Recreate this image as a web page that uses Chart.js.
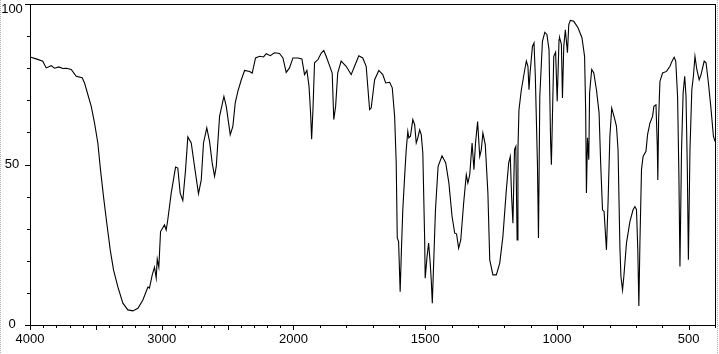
<!DOCTYPE html>
<html>
<head>
<meta charset="utf-8">
<script src="https://cdn.jsdelivr.net/npm/chart.js@4/dist/chart.umd.min.js"></script>
<style>
  html, body { margin: 0; padding: 0; background: #fff; }
  #wrap { position: relative; width: 719px; height: 354px; }
</style>
</head>
<body>
<div id="wrap"><canvas id="ir"></canvas></div>
<script>
// ===== Data =====
const wavenumbers = [
  4000,3953,3903,3877,3839,3814,3781,3751,3723,3687,
  3649,3604,3586,3561,3535,3510,3485,3465,3442,3417,
  3391,3366,3333,3295,3257,3219,3181,3143,3105,3093,
  3072,3055,3042,3034,3022,3009,2979,2966,2954,2928,
  2895,2878,2860,2840,2819,2802,2776,2751,2721,2700,
  2683,2658,2637,2617,2599,2586,2561,2528,2510,2480,
  2460,2442,2422,2396,2371,2333,2313,2288,2257,2227,
  2207,2176,2144,2106,2080,2055,2030,2004,1983,1968,
  1958,1949,1941,1935,1931,1926,1920,1907,1894,1885,
  1876,1863,1853,1847,1840,1832,1819,1800,1781,1768,
  1752,1737,1724,1711,1705,1692,1676,1661,1650,1635,
  1625,1616,1610,1606,1601,1595,1590,1585,1578,1572,
  1566,1562,1556,1547,1540,1534,1528,1521,1515,1509,
  1502,1500,1493,1487,1481,1477,1473,1467,1461,1451,
  1436,1422,1410,1398,1388,1381,1373,1365,1354,1344,
  1338,1331,1322,1315,1309,1301,1293,1287,1281,1272,
  1262,1255,1243,1230,1217,1205,1192,1183,1177,1172,
  1167,1161,1156,1151,1148,1144,1135,1122,1116,1110,
  1106,1102,1093,1087,1082,1074,1070,1065,1055,1046,
  1038,1030,1024,1021,1017,1012,1005,999,992,990,
  983,979,974,968,960,955,949,936,920,905,
  895,891,888,884,879,876,868,860,850,840,
  834,827,821,812,806,799,792,780,774,768,
  761,757,751,746,736,723,711,704,698,693,
  689,685,679,673,662,656,647,637,632,624,
  619,617,614,609,599,584,571,563,555,549,
  542,537,533,527,521,515,510,505,501,495,
  488,482,476,469,460,453,441,434,425,416,
  406,400
];
const transmittance = [
  83.5,82.9,82.2,80.1,80.8,80.0,80.4,79.9,80.0,79.6,
  77.5,77.0,75.4,71.8,68.1,62.9,56.7,48.4,40.0,31.7,
  23.4,17.2,11.9,6.8,4.7,4.4,5.2,7.8,11.8,11.5,
  15.6,18.0,14.6,20.5,18.0,29.1,31.2,29.6,32.8,41.1,
  49.2,48.9,41.1,38.8,48.4,58.6,56.7,49.4,40.9,45.2,
  56.7,61.4,57.2,50.5,46.3,49.4,65.0,71.2,68.1,59.3,
  61.9,69.2,72.8,76.4,79.3,79.0,78.5,83.2,83.7,83.5,
  84.5,83.9,84.8,84.6,83.2,78.7,80.1,83.2,83.2,82.9,
  78.0,79.3,74.4,66.1,57.9,67.1,81.7,82.7,84.8,85.5,
  83.7,80.8,78.5,64.0,68.1,78.5,82.2,80.6,78.0,80.6,
  83.9,83.2,80.6,67.1,67.6,76.4,79.3,78.0,75.4,75.6,
  73.9,65.0,50.5,27.1,26.0,10.4,23.9,35.9,46.3,54.6,
  60.3,58.3,58.8,64.0,62.4,56.7,58.3,60.8,59.3,53.6,
  26.5,14.6,21.3,25.5,19.3,14.0,6.8,21.3,35.9,49.4,
  52.7,50.5,44.2,33.8,28.6,28.4,23.9,26.5,38.0,46.8,
  44.2,46.8,56.7,48.4,56.7,63.4,52.5,54.6,59.8,56.2,
  41.1,20.3,15.6,15.6,19.3,27.6,42.1,50.5,52.5,40.0,
  31.7,54.6,55.6,26.5,54.6,67.1,73.3,79.6,82.2,80.6,
  73.3,78.5,86.8,87.9,77.5,50.5,27.1,71.2,88.4,91.2,
  90.5,85.8,57.2,49.9,65.0,83.7,85.0,69.7,88.9,89.5,
  87.4,70.7,86.8,92.0,84.8,93.6,94.9,94.6,92.6,89.5,
  83.7,67.1,41.1,58.3,51.5,72.3,79.6,78.5,73.3,66.1,
  50.5,35.9,35.4,23.4,38.0,58.8,67.6,64.0,61.9,54.6,
  24.4,15.1,10.9,15.1,25.5,32.2,35.9,36.9,35.9,23.4,
  5.9,25.5,48.4,52.5,54.1,59.3,62.9,65.0,68.1,68.6,
  55.6,45.2,64.0,75.9,78.5,79.0,80.6,82.2,83.4,82.2,
  71.2,46.3,18.2,54.6,72.3,77.5,71.2,48.4,20.3,54.6,
  73.3,77.5,83.7,79.6,76.4,78.0,82.2,81.7,75.4,68.1,
  58.8,57.2
];
const xTickLabels = [4000, 3000, 2000, 1500, 1000, 500];
const yTickLabels = [0, 50, 100];

// ===== Split wavenumber axis: 4000-2000 at half scale =====
const toAxis   = wn => wn >= 2000 ? (4000 - wn) / 2 : 1000 + (2000 - wn);
const fromAxis = v  => v <= 1000 ? 4000 - 2 * v : 2000 - (v - 1000);

const points = wavenumbers.map((wn, i) => ({ x: toAxis(wn), y: transmittance[i] }));

const FONT = '13px "Liberation Sans", Arial, sans-serif';

// ===== Frame, tick marks, y labels =====
const framePlugin = {
  id: 'frame',
  afterDraw(chart) {
    const { ctx, chartArea: a, scales: { x, y } } = chart;
    ctx.save();
    ctx.strokeStyle = '#000';
    ctx.lineWidth = 1;
    ctx.strokeRect(a.left + 0.5, a.top + 0.5, a.right - a.left, a.bottom - a.top);

    ctx.beginPath();
    x.ticks.forEach(t => {
      const wn = Math.round(fromAxis(t.value));
      const px = Math.round(x.getPixelForValue(t.value)) + 0.5;
      const len = wn % 500 === 0 ? 5 : 3;
      ctx.moveTo(px, a.bottom);
      ctx.lineTo(px, a.bottom + len);
    });
    for (let v = 0; v <= 100; v += 10) {
      const py = Math.round(y.getPixelForValue(v)) + 0.5;
      const len = v % 50 === 0 ? 5 : 3;
      ctx.moveTo(a.left - len, py);
      ctx.lineTo(a.left + 1, py);
    }
    ctx.stroke();

    ctx.fillStyle = '#000';
    ctx.font = FONT;
    ctx.textAlign = 'center';
    ctx.textBaseline = 'middle';
    yTickLabels.forEach(v => {
      let py = y.getPixelForValue(v);
      py = Math.min(Math.max(py, 9), a.bottom - 1);
      ctx.fillText(String(v), 12, py);
    });

    // window edge
    ctx.strokeStyle = '#b0b0b0';
    ctx.setLineDash([1, 1]);
    ctx.beginPath();
    ctx.moveTo(0.5, 0); ctx.lineTo(0.5, chart.height);
    ctx.moveTo(717.5, 0); ctx.lineTo(717.5, chart.height);
    ctx.stroke();
    ctx.restore();
  }
};

new Chart(document.getElementById('ir'), {
  type: 'line',
  data: {
    datasets: [{
      data: points,
      borderColor: '#000',
      borderWidth: 1.1,
      pointRadius: 0,
      tension: 0,
      fill: false,
    }],
  },
  options: {
    responsive: true,
    maintainAspectRatio: false,
    animation: false,
    devicePixelRatio: 1,
    layout: { padding: { top: 4, right: 4, left: 0, bottom: 0 } },
    plugins: { legend: { display: false }, tooltip: { enabled: false } },
    scales: {
      x: {
        type: 'linear',
        min: 0,
        max: toAxis(400),
        afterFit: s => { s.height = 29; },
        afterBuildTicks: s => {
          const ticks = [];
          for (let wn = 4000; wn >= 400; wn -= 100) ticks.push({ value: toAxis(wn) });
          s.ticks = ticks;
        },
        grid: { display: false, drawTicks: true, tickLength: 5 },
        border: { display: false },
        ticks: {
          autoSkip: false,
          maxRotation: 0,
          padding: 2,
          color: '#000',
          font: { family: '"Liberation Sans", Arial, sans-serif', size: 13 },
          callback: v => {
            const wn = Math.round(fromAxis(v));
            return xTickLabels.includes(wn) ? String(wn) : '';
          },
        },
      },
      y: {
        min: 0,
        max: 100,
        afterFit: s => { s.width = 30; },
        grid: { display: false },
        border: { display: false },
        ticks: { display: false, stepSize: 10 },
      },
    },
  },
  plugins: [framePlugin],
});
</script>
</body>
</html>
